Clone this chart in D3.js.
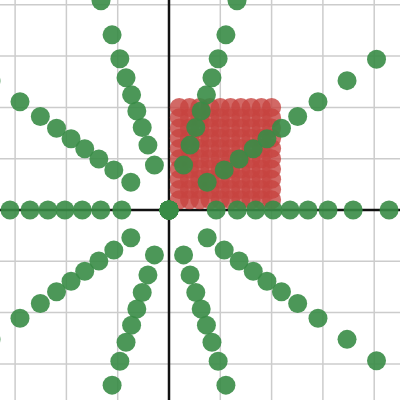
<!DOCTYPE html>
<html><head><meta charset="utf-8">
<script src="https://cdn.jsdelivr.net/npm/d3@7"></script>
<style>body{margin:0}svg{display:block}</style>
</head><body><div class="chart"></div>
<script>
var radii = [0, 0.92, 1.33, 1.69, 2.03, 2.36, 2.71, 3.10, 3.59, 4.29, 5.0];
var rayAngles = [0, 36, 72, 108, 144, 180, 216, 252, 288, 324];
var squareSteps = [0.2, 0.4, 0.6, 0.8, 1.0, 1.2, 1.4, 1.6, 1.8, 2.0];
var gridTicks = [-3, -2, -1, 1, 2, 3, 4];

var W = 400, H = 400, unit = 51.3;
var x = d3.scaleLinear().domain([-169/unit, (W-169)/unit]).range([0, W]);
var y = d3.scaleLinear().domain([-(H-210)/unit, 210/unit]).range([H, 0]);

var svg = d3.select('.chart').append('svg').attr('width', W).attr('height', H);
svg.append('rect').attr('width', W).attr('height', H).attr('fill', '#fff');

svg.append('g').selectAll('line').data(gridTicks).join('line')
	.attr('x1', d => x(d)).attr('x2', d => x(d)).attr('y1', 0).attr('y2', H)
	.attr('stroke', '#ccc').attr('stroke-width', 1.5);
svg.append('g').selectAll('line').data(gridTicks).join('line')
	.attr('y1', d => y(d)).attr('y2', d => y(d)).attr('x1', 0).attr('x2', W)
	.attr('stroke', '#ccc').attr('stroke-width', 1.5);
svg.append('line').attr('x1', x(0)).attr('x2', x(0)).attr('y1', 0).attr('y2', H)
	.attr('stroke', '#111').attr('stroke-width', 2.5);
svg.append('line').attr('y1', y(0)).attr('y2', y(0)).attr('x1', 0).attr('x2', W)
	.attr('stroke', '#111').attr('stroke-width', 2.5);

var squarePts = [];
squareSteps.forEach(a => squareSteps.forEach(b => squarePts.push([a, b])));
svg.append('g').selectAll('circle').data(squarePts).join('circle')
	.attr('cx', d => x(d[0])).attr('cy', d => y(d[1])).attr('r', 9.5)
	.attr('fill', '#c74440').attr('fill-opacity', 0.8);

var rayPts = [];
rayAngles.forEach(a => radii.forEach(r => {
	var t = a * Math.PI / 180;
	rayPts.push([r * Math.cos(t), r * Math.sin(t)]);
}));
svg.append('g').selectAll('circle').data(rayPts).join('circle')
	.attr('cx', d => x(d[0])).attr('cy', d => y(d[1])).attr('r', 9.5)
	.attr('fill', '#388c46').attr('fill-opacity', 0.9);
</script></body></html>
